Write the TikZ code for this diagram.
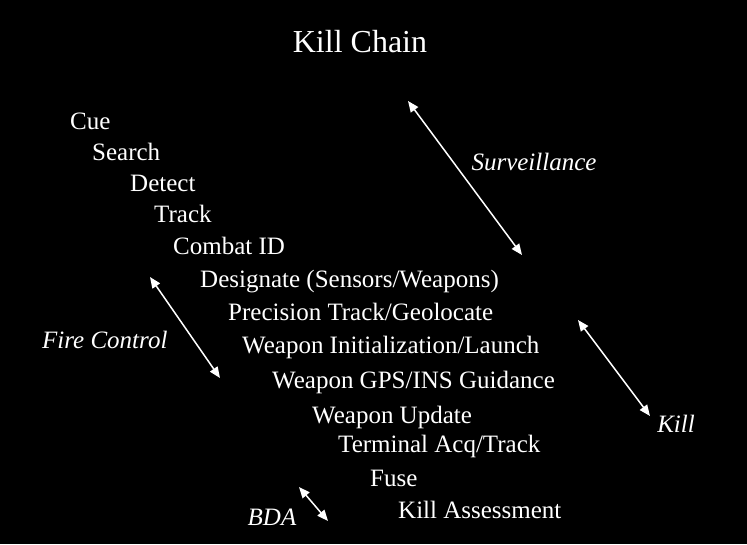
\documentclass[tikz,border=0pt]{standalone}
\usepackage{fontspec}
\setmainfont{Liberation Serif}
\usetikzlibrary{arrows.meta}
\tikzset{stage/.style={anchor=west, text=white, font=\fontsize{25}{27}\selectfont, inner sep=0pt},
	phase/.style={text=white, font=\fontsize{25}{27}\selectfont\itshape, inner sep=0pt},
	span/.style={draw=white, line width=1.5pt, {Triangle[width=9pt,length=11pt]}-{Triangle[width=9pt,length=11pt]}}}
\begin{document}
\begin{tikzpicture}[x=1pt,y=-1pt]
		\fill[black](0,0)rectangle(747,544);
		\useasboundingbox(0,0)rectangle(747,544);
		\node[text=white,font=\fontsize{32}{34}\selectfont](title)at(360,42){Kill Chain};
		\node[stage](s1)at(70,121){Cue};
		\node[stage](s2)at(92,152){Search};
		\node[stage](s3)at(130,183){Detect};
		\node[stage](s4)at(154,214){Track};
		\node[stage](s5)at(173,246){Combat ID};
		\node[stage](s6)at(200,282){Designate (Sensors/Weapons)};
		\node[stage](s7)at(228,312){Precision Track/Geolocate};
		\node[stage](s8)at(242,347){Weapon Initialization/Launch};
		\node[stage](s9)at(272,382){Weapon GPS/INS Guidance};
		\node[stage](s10)at(312,417){Weapon Update};
		\node[stage](s11)at(338,446){Terminal Acq/Track};
		\node[stage](s12)at(370,478){Fuse};
		\node[stage](s13)at(398,510){Kill Assessment};
		
		\node[phase](surv)at(534,162){Surveillance};
		\node[phase,anchor=west](fc)at(42,340){Fire Control};
		\node[phase](kill)at(676,424){Kill};
		\node[phase](bda)at(272,517){BDA};
		
		\coordinate(sa)at(408,101);\coordinate(sb)at(522,255);
		\coordinate(fa)at(150,277);\coordinate(fb)at(220,378);
		\coordinate(ka)at(578,320);\coordinate(kb)at(650,416);
		\coordinate(ba)at(299,487);\coordinate(bb)at(328,521);
		\draw[span](sa)--(sb);
		\draw[span](fa)--(fb);
		\draw[span](ka)--(kb);
		\draw[span](ba)--(bb);
	\end{tikzpicture}
\end{document}
